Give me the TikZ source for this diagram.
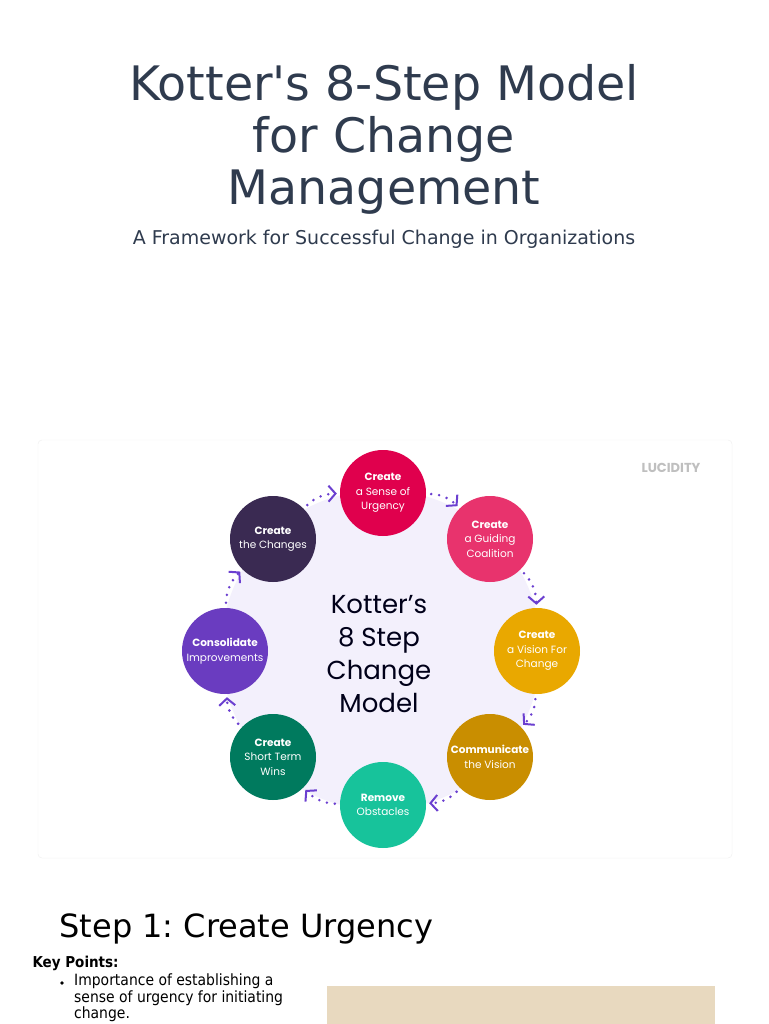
\documentclass[tikz,border=0pt]{standalone}
\usepackage{fontspec}
\setmainfont{DejaVu Sans}
\newfontfamily\pop{Poppins}
\newfontfamily\dvc{DejaVu Sans Condensed}
\usetikzlibrary{arrows.meta,shadows}
\definecolor{titlec}{HTML}{2F3B4E}
\definecolor{arrc}{HTML}{6B3FD0}
\definecolor{discc}{HTML}{F3F0FC}
\definecolor{ca}{HTML}{E0004D}
\definecolor{cb}{HTML}{E8336D}
\definecolor{cc}{HTML}{E9A800}
\definecolor{cd}{HTML}{C98E00}
\definecolor{ce}{HTML}{17C39B}
\definecolor{cf}{HTML}{007A5E}
\definecolor{cg}{HTML}{6A3CC0}
\definecolor{ch}{HTML}{3A2A52}
\definecolor{beige}{HTML}{E8D9BF}
\tikzset{
 stepc/.style={circle,minimum size=86pt,inner sep=0pt,align=center,text=white,font=\pop\fontsize{10.5}{14.5}\selectfont},
 flow/.style={arrc,line width=2.8pt,dash pattern=on 0pt off 8pt,line cap=round,-{Straight Barb[length=7pt,width=16pt,line width=2pt]}, shorten >=3pt,shorten <=5pt}
}
\frenchspacing
\begin{document}
\begin{tikzpicture}[x=1pt,y=-1pt]
\useasboundingbox (0,0) rectangle (768,1024);
\fill[white] (0,0) rectangle (768,1024);
\node[text=titlec,align=center,font=\fontsize{47.5}{52}\selectfont] (title) at (384,139) {Kotter\textquotesingle s 8-Step Model\\for Change\\Management};
\node[text=titlec,font=\fontsize{19}{22}\selectfont] (sub) at (384,239) {A Framework for Successful Change in Organizations};
\node[draw=black!6,fill=white,rounded corners=4pt,minimum width=694pt,minimum height=418pt,drop shadow={opacity=0.08,shadow xshift=0pt,shadow yshift=0pt}] (panel) at (385,649) {};
\fill[discc] (381,650) circle (160);
\node[text=black!25,font=\pop\bfseries\fontsize{13}{15}\selectfont] (logo) at (671,468) {LUCIDITY};
\node[align=center,text=black!90!blue,font=\pop\fontsize{26}{33}\selectfont] (center) at (379,654) {Kotter’s\\8 Step\\Change\\Model};
\node[stepc,fill=ca] (s1) at (383,493) {\textbf{Create}\\a Sense of\\Urgency};
\node[stepc,fill=cb] (s2) at (490,539) {\textbf{Create}\\a Guiding\\Coalition};
\node[stepc,fill=cc] (s3) at (537,651) {\textbf{Create}\\a Vision For\\Change};
\node[stepc,fill=cd] (s4) at (490,757) {\textbf{Communicate}\\the Vision};
\node[stepc,fill=ce] (s5) at (383,805) {\textbf{Remove}\\Obstacles};
\node[stepc,fill=cf] (s6) at (273,757) {\textbf{Create}\\Short Term\\Wins};
\node[stepc,fill=cg] (s7) at (225,651) {\textbf{Consolidate}\\Improvements};
\node[stepc,fill=ch] (s8) at (273,539) {\textbf{Create}\\the Changes};
\foreach \a/\b in {s1/s2,s2/s3,s3/s4,s4/s5,s5/s6,s6/s7,s7/s8,s8/s1}
  \draw[flow] (\a) to[bend left=22] (\b);
\node[anchor=west,font=\fontsize{32}{36}\selectfont] (step) at (56,929) {Step 1: Create Urgency};
\node[anchor=west,font=\dvc\bfseries\fontsize{15}{18}\selectfont] (kp) at (29,963) {Key Points:};
\node[anchor=north west,align=left,inner sep=0pt,font=\dvc\fontsize{15.5}{16.5}\selectfont] (b1) at (74,974) {Importance of establishing a\\sense of urgency for initiating\\change.};
\fill (62,983) circle (1.8);
\fill[beige] (327,986) rectangle (715,1024);
\end{tikzpicture}
\end{document}
